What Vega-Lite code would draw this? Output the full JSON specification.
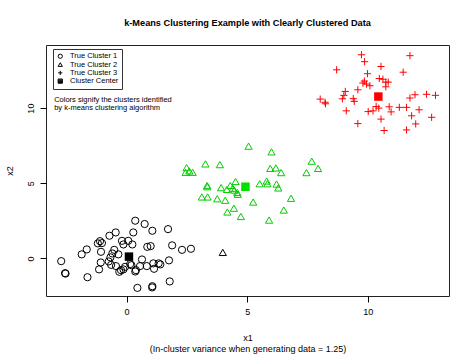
{
  "$schema": "https://vega.github.io/schema/vega-lite/v6.json",
  "width": 403,
  "height": 251,
  "autosize": {"type": "none"},
  "padding": {"left": 46, "top": 45, "right": 25, "bottom": 59},
  "background": "white",
  "title": {
    "text": "k-Means Clustering Example with Clearly Clustered Data",
    "font": "Liberation Sans",
    "fontSize": 9.2,
    "fontWeight": "bold",
    "color": "black",
    "anchor": "middle",
    "frame": "group",
    "offset": 17
  },
  "config": {
    "view": {"stroke": "#222", "strokeWidth": 1},
    "axis": {
      "domain": false,
      "grid": false,
      "tickColor": "black",
      "tickSize": 6,
      "labelFont": "Liberation Sans",
      "labelFontSize": 9,
      "labelColor": "black",
      "titleFont": "Liberation Sans",
      "titleFontSize": 9,
      "titleFontWeight": "normal",
      "titleColor": "black"
    }
  },
  "datasets": {
    "points": [
      {"x1": -2.71, "x2": -0.18, "type": "True Cluster 1", "km": "1"},
      {"x1": -2.55, "x2": -0.98, "type": "True Cluster 1", "km": "1"},
      {"x1": -2.53, "x2": -1.01, "type": "True Cluster 1", "km": "1"},
      {"x1": -1.86, "x2": 0.27, "type": "True Cluster 1", "km": "1"},
      {"x1": -1.65, "x2": 0.60, "type": "True Cluster 1", "km": "1"},
      {"x1": -1.62, "x2": -1.25, "type": "True Cluster 1", "km": "1"},
      {"x1": -1.19, "x2": 1.00, "type": "True Cluster 1", "km": "1"},
      {"x1": -1.10, "x2": 1.15, "type": "True Cluster 1", "km": "1"},
      {"x1": -1.02, "x2": 1.02, "type": "True Cluster 1", "km": "1"},
      {"x1": -1.06, "x2": 0.44, "type": "True Cluster 1", "km": "1"},
      {"x1": -1.07, "x2": -0.27, "type": "True Cluster 1", "km": "1"},
      {"x1": -1.14, "x2": -0.73, "type": "True Cluster 1", "km": "1"},
      {"x1": -0.71, "x2": 1.51, "type": "True Cluster 1", "km": "1"},
      {"x1": -0.45, "x2": 1.73, "type": "True Cluster 1", "km": "1"},
      {"x1": -0.51, "x2": 0.57, "type": "True Cluster 1", "km": "1"},
      {"x1": -0.59, "x2": 0.33, "type": "True Cluster 1", "km": "1"},
      {"x1": -0.67, "x2": 0.07, "type": "True Cluster 1", "km": "1"},
      {"x1": -0.74, "x2": -0.20, "type": "True Cluster 1", "km": "1"},
      {"x1": -0.64, "x2": -0.43, "type": "True Cluster 1", "km": "1"},
      {"x1": -0.44, "x2": -0.51, "type": "True Cluster 1", "km": "1"},
      {"x1": -0.34, "x2": 0.27, "type": "True Cluster 1", "km": "1"},
      {"x1": -0.30, "x2": -0.89, "type": "True Cluster 1", "km": "1"},
      {"x1": -0.23, "x2": -0.78, "type": "True Cluster 1", "km": "1"},
      {"x1": -0.13, "x2": -0.73, "type": "True Cluster 1", "km": "1"},
      {"x1": -0.06, "x2": -0.56, "type": "True Cluster 1", "km": "1"},
      {"x1": -0.19, "x2": 1.17, "type": "True Cluster 1", "km": "1"},
      {"x1": -0.13, "x2": 0.93, "type": "True Cluster 1", "km": "1"},
      {"x1": 0.07, "x2": 1.17, "type": "True Cluster 1", "km": "1"},
      {"x1": 0.24, "x2": 0.93, "type": "True Cluster 1", "km": "1"},
      {"x1": 0.28, "x2": 1.73, "type": "True Cluster 1", "km": "1"},
      {"x1": 0.36, "x2": 2.51, "type": "True Cluster 1", "km": "1"},
      {"x1": 0.75, "x2": 2.29, "type": "True Cluster 1", "km": "1"},
      {"x1": 0.86, "x2": 0.77, "type": "True Cluster 1", "km": "1"},
      {"x1": 1.00, "x2": 0.82, "type": "True Cluster 1", "km": "1"},
      {"x1": 0.15, "x2": -0.38, "type": "True Cluster 1", "km": "1"},
      {"x1": 0.20, "x2": -0.45, "type": "True Cluster 1", "km": "1"},
      {"x1": 0.39, "x2": -0.78, "type": "True Cluster 1", "km": "1"},
      {"x1": 0.36, "x2": -0.87, "type": "True Cluster 1", "km": "1"},
      {"x1": 0.45, "x2": -1.96, "type": "True Cluster 1", "km": "1"},
      {"x1": 0.56, "x2": -0.51, "type": "True Cluster 1", "km": "1"},
      {"x1": 0.64, "x2": -0.07, "type": "True Cluster 1", "km": "1"},
      {"x1": 0.84, "x2": -0.51, "type": "True Cluster 1", "km": "1"},
      {"x1": 1.07, "x2": 1.84, "type": "True Cluster 1", "km": "1"},
      {"x1": 1.72, "x2": 1.95, "type": "True Cluster 1", "km": "1"},
      {"x1": 1.89, "x2": 0.87, "type": "True Cluster 1", "km": "1"},
      {"x1": 2.30, "x2": 0.57, "type": "True Cluster 1", "km": "1"},
      {"x1": 2.67, "x2": 0.64, "type": "True Cluster 1", "km": "1"},
      {"x1": 1.11, "x2": -0.33, "type": "True Cluster 1", "km": "1"},
      {"x1": 1.33, "x2": -0.33, "type": "True Cluster 1", "km": "1"},
      {"x1": 1.40, "x2": -0.40, "type": "True Cluster 1", "km": "1"},
      {"x1": 1.14, "x2": -0.69, "type": "True Cluster 1", "km": "1"},
      {"x1": 1.76, "x2": -0.13, "type": "True Cluster 1", "km": "1"},
      {"x1": 1.07, "x2": -1.85, "type": "True Cluster 1", "km": "1"},
      {"x1": 1.06, "x2": -1.93, "type": "True Cluster 1", "km": "1"},
      {"x1": 1.79, "x2": -1.53, "type": "True Cluster 1", "km": "1"},
      {"x1": 3.99, "x2": 0.40, "type": "True Cluster 2", "km": "1"},
      {"x1": 2.49, "x2": 6.04, "type": "True Cluster 2", "km": "2"},
      {"x1": 2.45, "x2": 5.73, "type": "True Cluster 2", "km": "2"},
      {"x1": 2.74, "x2": 5.73, "type": "True Cluster 2", "km": "2"},
      {"x1": 2.60, "x2": 5.82, "type": "True Cluster 2", "km": "2"},
      {"x1": 3.27, "x2": 6.29, "type": "True Cluster 2", "km": "2"},
      {"x1": 3.87, "x2": 6.24, "type": "True Cluster 2", "km": "2"},
      {"x1": 3.34, "x2": 4.85, "type": "True Cluster 2", "km": "2"},
      {"x1": 3.35, "x2": 4.77, "type": "True Cluster 2", "km": "2"},
      {"x1": 3.92, "x2": 4.71, "type": "True Cluster 2", "km": "2"},
      {"x1": 3.12, "x2": 4.09, "type": "True Cluster 2", "km": "2"},
      {"x1": 3.36, "x2": 4.09, "type": "True Cluster 2", "km": "2"},
      {"x1": 3.76, "x2": 3.97, "type": "True Cluster 2", "km": "2"},
      {"x1": 4.09, "x2": 3.87, "type": "True Cluster 2", "km": "2"},
      {"x1": 4.16, "x2": 4.59, "type": "True Cluster 2", "km": "2"},
      {"x1": 4.30, "x2": 4.85, "type": "True Cluster 2", "km": "2"},
      {"x1": 4.52, "x2": 5.12, "type": "True Cluster 2", "km": "2"},
      {"x1": 4.40, "x2": 4.67, "type": "True Cluster 2", "km": "2"},
      {"x1": 4.47, "x2": 4.55, "type": "True Cluster 2", "km": "2"},
      {"x1": 4.59, "x2": 4.39, "type": "True Cluster 2", "km": "2"},
      {"x1": 4.61, "x2": 4.27, "type": "True Cluster 2", "km": "2"},
      {"x1": 4.18, "x2": 3.09, "type": "True Cluster 2", "km": "2"},
      {"x1": 4.45, "x2": 3.34, "type": "True Cluster 2", "km": "2"},
      {"x1": 4.74, "x2": 2.79, "type": "True Cluster 2", "km": "2"},
      {"x1": 5.06, "x2": 7.47, "type": "True Cluster 2", "km": "2"},
      {"x1": 6.01, "x2": 7.09, "type": "True Cluster 2", "km": "2"},
      {"x1": 5.25, "x2": 3.75, "type": "True Cluster 2", "km": "2"},
      {"x1": 5.52, "x2": 4.97, "type": "True Cluster 2", "km": "2"},
      {"x1": 5.81, "x2": 5.15, "type": "True Cluster 2", "km": "2"},
      {"x1": 5.84, "x2": 4.97, "type": "True Cluster 2", "km": "2"},
      {"x1": 5.96, "x2": 5.99, "type": "True Cluster 2", "km": "2"},
      {"x1": 6.19, "x2": 6.02, "type": "True Cluster 2", "km": "2"},
      {"x1": 6.41, "x2": 5.71, "type": "True Cluster 2", "km": "2"},
      {"x1": 6.22, "x2": 4.95, "type": "True Cluster 2", "km": "2"},
      {"x1": 6.29, "x2": 4.69, "type": "True Cluster 2", "km": "2"},
      {"x1": 6.82, "x2": 4.00, "type": "True Cluster 2", "km": "2"},
      {"x1": 6.52, "x2": 3.22, "type": "True Cluster 2", "km": "2"},
      {"x1": 5.91, "x2": 2.55, "type": "True Cluster 2", "km": "2"},
      {"x1": 7.68, "x2": 6.47, "type": "True Cluster 2", "km": "2"},
      {"x1": 7.46, "x2": 5.71, "type": "True Cluster 2", "km": "2"},
      {"x1": 7.94, "x2": 5.99, "type": "True Cluster 2", "km": "2"},
      {"x1": 9.74, "x2": 13.55, "type": "True Cluster 3", "km": "3"},
      {"x1": 9.87, "x2": 13.09, "type": "True Cluster 3", "km": "3"},
      {"x1": 11.75, "x2": 13.49, "type": "True Cluster 3", "km": "3"},
      {"x1": 8.71, "x2": 12.55, "type": "True Cluster 3", "km": "3"},
      {"x1": 10.55, "x2": 12.77, "type": "True Cluster 3", "km": "3"},
      {"x1": 11.47, "x2": 12.39, "type": "True Cluster 3", "km": "3"},
      {"x1": 9.99, "x2": 12.29, "type": "True Cluster 3", "km": "3"},
      {"x1": 9.86, "x2": 11.80, "type": "True Cluster 3", "km": "3"},
      {"x1": 9.80, "x2": 11.67, "type": "True Cluster 3", "km": "3"},
      {"x1": 9.95, "x2": 11.60, "type": "True Cluster 3", "km": "3"},
      {"x1": 10.09, "x2": 11.49, "type": "True Cluster 3", "km": "3"},
      {"x1": 10.48, "x2": 11.97, "type": "True Cluster 3", "km": "3"},
      {"x1": 10.63, "x2": 11.92, "type": "True Cluster 3", "km": "3"},
      {"x1": 10.75, "x2": 11.73, "type": "True Cluster 3", "km": "3"},
      {"x1": 10.85, "x2": 11.73, "type": "True Cluster 3", "km": "3"},
      {"x1": 10.75, "x2": 11.42, "type": "True Cluster 3", "km": "3"},
      {"x1": 9.59, "x2": 11.22, "type": "True Cluster 3", "km": "3"},
      {"x1": 9.07, "x2": 11.11, "type": "True Cluster 3", "km": "3"},
      {"x1": 9.01, "x2": 10.85, "type": "True Cluster 3", "km": "3"},
      {"x1": 8.95, "x2": 10.62, "type": "True Cluster 3", "km": "3"},
      {"x1": 8.03, "x2": 10.60, "type": "True Cluster 3", "km": "3"},
      {"x1": 8.23, "x2": 10.39, "type": "True Cluster 3", "km": "3"},
      {"x1": 8.25, "x2": 10.29, "type": "True Cluster 3", "km": "3"},
      {"x1": 9.40, "x2": 10.63, "type": "True Cluster 3", "km": "3"},
      {"x1": 9.44, "x2": 10.45, "type": "True Cluster 3", "km": "3"},
      {"x1": 9.11, "x2": 9.82, "type": "True Cluster 3", "km": "3"},
      {"x1": 10.02, "x2": 9.77, "type": "True Cluster 3", "km": "3"},
      {"x1": 10.22, "x2": 9.82, "type": "True Cluster 3", "km": "3"},
      {"x1": 10.35, "x2": 10.11, "type": "True Cluster 3", "km": "3"},
      {"x1": 10.46, "x2": 10.00, "type": "True Cluster 3", "km": "3"},
      {"x1": 10.89, "x2": 10.09, "type": "True Cluster 3", "km": "3"},
      {"x1": 10.97, "x2": 9.75, "type": "True Cluster 3", "km": "3"},
      {"x1": 11.31, "x2": 10.05, "type": "True Cluster 3", "km": "3"},
      {"x1": 11.61, "x2": 10.05, "type": "True Cluster 3", "km": "3"},
      {"x1": 11.75, "x2": 10.67, "type": "True Cluster 3", "km": "3"},
      {"x1": 11.96, "x2": 10.89, "type": "True Cluster 3", "km": "3"},
      {"x1": 12.44, "x2": 10.92, "type": "True Cluster 3", "km": "3"},
      {"x1": 12.81, "x2": 10.85, "type": "True Cluster 3", "km": "3"},
      {"x1": 12.13, "x2": 9.89, "type": "True Cluster 3", "km": "3"},
      {"x1": 11.82, "x2": 9.49, "type": "True Cluster 3", "km": "3"},
      {"x1": 12.65, "x2": 9.39, "type": "True Cluster 3", "km": "3"},
      {"x1": 10.55, "x2": 9.27, "type": "True Cluster 3", "km": "3"},
      {"x1": 9.59, "x2": 8.97, "type": "True Cluster 3", "km": "3"},
      {"x1": 11.99, "x2": 8.95, "type": "True Cluster 3", "km": "3"},
      {"x1": 11.61, "x2": 8.55, "type": "True Cluster 3", "km": "3"},
      {"x1": 10.68, "x2": 8.51, "type": "True Cluster 3", "km": "3"}
    ],
    "centers": [
      {"x1": 0.10, "x2": 0.12, "km": "1"},
      {"x1": 4.93, "x2": 4.77, "km": "2"},
      {"x1": 10.44, "x2": 10.77, "km": "3"}
    ],
    "note": [
      {"x1": -3.0, "x2": 10.82, "note": "Colors signify the clusters identified\nby k-means clustering algorithm"}
    ]
  },
  "encoding": {
    "x": {
      "field": "x1",
      "type": "quantitative",
      "scale": {"domain": [-3.34, 13.37], "nice": false, "zero": false},
      "axis": {
        "values": [0, 5, 10],
        "labelPadding": 5,
        "titlePadding": 17,
        "titleLineHeight": 11,
        "title": ["x1", "(In-cluster variance when generating data = 1.25)"]
      }
    },
    "y": {
      "field": "x2",
      "type": "quantitative",
      "scale": {"domain": [-2.5, 14.2], "nice": false, "zero": false},
      "axis": {
        "values": [0, 5, 10],
        "labelAngle": -90,
        "labelAlign": "center",
        "labelBaseline": "alphabetic",
        "labelPadding": 7,
        "titlePadding": 12,
        "title": "x2"
      }
    }
  },
  "layer": [
    {
      "data": {"name": "points"},
      "mark": {"type": "point", "filled": false, "strokeWidth": 1, "opacity": 1, "size": 52},
      "encoding": {
        "shape": {
          "field": "type",
          "type": "nominal",
          "scale": {
            "domain": ["True Cluster 1", "True Cluster 2", "True Cluster 3", "Cluster Center"],
            "range": ["circle", "triangle-up", "M-1,0H1M0,-1V1", "M-1,-1H1V1H-1Z M-1,-0.6H1 M-1,-0.2H1 M-1,0.2H1 M-1,0.6H1"]
          },
          "legend": {
            "title": null,
            "orient": "none",
            "legendX": 7,
            "legendY": 4,
            "padding": 3.5,
            "strokeColor": "#333",
            "symbolSize": 18,
            "symbolStrokeWidth": 1,
            "symbolStrokeColor": "black",
            "symbolFillColor": "transparent",
            "labelFont": "Liberation Sans",
            "labelFontSize": 7.5,
            "labelColor": "black",
            "labelOffset": 6,
            "rowPadding": -0.7
          }
        },
        "stroke": {
          "field": "km",
          "type": "nominal",
          "scale": {"domain": ["1", "2", "3"], "range": ["black", "#00CD00", "#FF0000"]},
          "legend": null
        }
      }
    },
    {
      "data": {"name": "centers"},
      "mark": {"type": "square", "filled": true, "size": 72, "opacity": 1},
      "encoding": {
        "fill": {
          "field": "km",
          "type": "nominal",
          "scale": {"domain": ["1", "2", "3"], "range": ["black", "#00E000", "#FF0000"]},
          "legend": null
        }
      }
    },
    {
      "data": {"name": "note"},
      "mark": {
        "type": "text",
        "align": "left",
        "baseline": "top",
        "font": "Liberation Sans",
        "fontSize": 7.5,
        "lineHeight": 8.3,
        "lineBreak": "\n",
        "fill": "black"
      },
      "encoding": {
        "text": {"field": "note", "type": "nominal"}
      }
    }
  ]
}
